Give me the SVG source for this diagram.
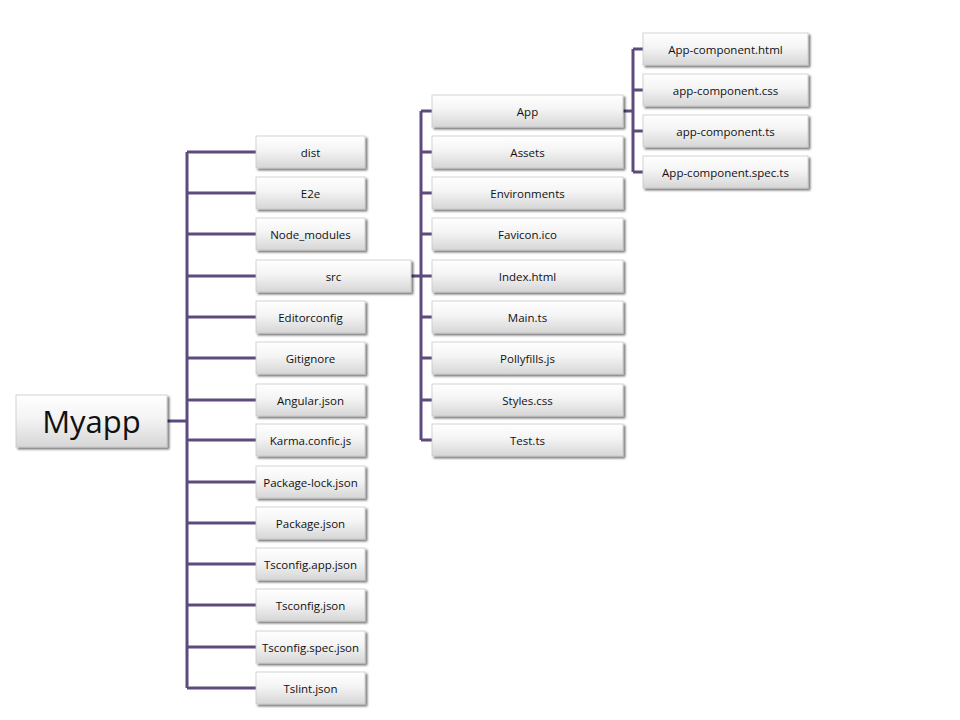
<svg xmlns="http://www.w3.org/2000/svg" width="960" height="720" viewBox="0 0 960 720">
<defs>
<linearGradient id="g" x1="0" y1="0" x2="0" y2="1">
<stop offset="0" stop-color="#ffffff"/>
<stop offset="0.45" stop-color="#f4f4f4"/>
<stop offset="1" stop-color="#d6d6d6"/>
</linearGradient>
<filter id="sh" x="-10%" y="-20%" width="130%" height="160%">
<feGaussianBlur in="SourceAlpha" stdDeviation="1"/>
<feOffset dx="1.5" dy="2" result="o"/>
<feComponentTransfer><feFuncA type="linear" slope="0.55"/></feComponentTransfer>
<feMerge><feMergeNode/><feMergeNode in="SourceGraphic"/></feMerge>
</filter>
</defs>
<style>
.b{fill:url(#g);stroke:#c8c8c8;stroke-width:0.8;filter:url(#sh)}
.t{font-family:"Open Sans","Liberation Sans",sans-serif;font-size:11.5px;fill:#111;text-anchor:middle;dominant-baseline:central}
.big{font-family:"Open Sans","Liberation Sans",sans-serif;font-size:31px;fill:#111;text-anchor:middle;dominant-baseline:central}
.c{fill:none;stroke:#5e4b7d;stroke-width:3}
</style>
<rect width="960" height="720" fill="#ffffff"/>
<g id="connectors">
<path class="c" d="M167 421H187M187 152V688M187 152H256M187 193H256M187 234H256M187 276H256M187 317H256M187 358H256M187 400H256M187 440H256M187 482H256M187 523H256M187 564H256M187 605H256M187 647H256M187 688H256"/>
<path class="c" d="M411 276H421M421 111V440M421 111H432M421 152H432M421 193H432M421 234H432M421 276H432M421 317H432M421 358H432M421 400H432M421 440H432"/>
<path class="c" d="M623 111H633M633 49V172M633 49H643M633 90H643M633 131H643M633 172H643"/>
</g>
<g id="myapp"><rect class="b" x="16" y="395" width="151" height="52"/><text class="big" x="91.5" y="421">Myapp</text></g>
<g id="dist"><rect class="b" x="256" y="136" width="109" height="32"/><text class="t" x="310.5" y="152">dist</text></g>
<g id="e2e"><rect class="b" x="256" y="177" width="109" height="32"/><text class="t" x="310.5" y="193">E2e</text></g>
<g id="node_modules"><rect class="b" x="256" y="218" width="109" height="32"/><text class="t" x="310.5" y="234">Node_modules</text></g>
<g id="src"><rect class="b" x="256" y="260" width="155" height="32"/><text class="t" x="333.5" y="276">src</text></g>
<g id="editorconfig"><rect class="b" x="256" y="301" width="109" height="32"/><text class="t" x="310.5" y="317">Editorconfig</text></g>
<g id="gitignore"><rect class="b" x="256" y="342" width="109" height="32"/><text class="t" x="310.5" y="358">Gitignore</text></g>
<g id="angular"><rect class="b" x="256" y="384" width="109" height="32"/><text class="t" x="310.5" y="400">Angular.json</text></g>
<g id="karma"><rect class="b" x="256" y="424" width="109" height="32"/><text class="t" x="310.5" y="440">Karma.confic.js</text></g>
<g id="package-lock"><rect class="b" x="256" y="466" width="109" height="32"/><text class="t" x="310.5" y="482">Package-lock.json</text></g>
<g id="package"><rect class="b" x="256" y="507" width="109" height="32"/><text class="t" x="310.5" y="523">Package.json</text></g>
<g id="tsconfig-app"><rect class="b" x="256" y="548" width="109" height="32"/><text class="t" x="310.5" y="564">Tsconfig.app.json</text></g>
<g id="tsconfig"><rect class="b" x="256" y="589" width="109" height="32"/><text class="t" x="310.5" y="605">Tsconfig.json</text></g>
<g id="tsconfig-spec"><rect class="b" x="256" y="631" width="109" height="32"/><text class="t" x="310.5" y="647">Tsconfig.spec.json</text></g>
<g id="tslint"><rect class="b" x="256" y="672" width="109" height="32"/><text class="t" x="310.5" y="688">Tslint.json</text></g>
<g id="app"><rect class="b" x="432" y="95" width="191" height="32"/><text class="t" x="527.5" y="111">App</text></g>
<g id="assets"><rect class="b" x="432" y="136" width="191" height="32"/><text class="t" x="527.5" y="152">Assets</text></g>
<g id="environments"><rect class="b" x="432" y="177" width="191" height="32"/><text class="t" x="527.5" y="193">Environments</text></g>
<g id="favicon"><rect class="b" x="432" y="218" width="191" height="32"/><text class="t" x="527.5" y="234">Favicon.ico</text></g>
<g id="index"><rect class="b" x="432" y="260" width="191" height="32"/><text class="t" x="527.5" y="276">Index.html</text></g>
<g id="main"><rect class="b" x="432" y="301" width="191" height="32"/><text class="t" x="527.5" y="317">Main.ts</text></g>
<g id="pollyfills"><rect class="b" x="432" y="342" width="191" height="32"/><text class="t" x="527.5" y="358">Pollyfills.js</text></g>
<g id="styles"><rect class="b" x="432" y="384" width="191" height="32"/><text class="t" x="527.5" y="400">Styles.css</text></g>
<g id="test"><rect class="b" x="432" y="424" width="191" height="32"/><text class="t" x="527.5" y="440">Test.ts</text></g>
<g id="app-html"><rect class="b" x="643" y="33" width="165" height="32"/><text class="t" x="725.5" y="49">App-component.html</text></g>
<g id="app-css"><rect class="b" x="643" y="74" width="165" height="32"/><text class="t" x="725.5" y="90">app-component.css</text></g>
<g id="app-ts"><rect class="b" x="643" y="115" width="165" height="32"/><text class="t" x="725.5" y="131">app-component.ts</text></g>
<g id="app-spec"><rect class="b" x="643" y="156" width="165" height="32"/><text class="t" x="725.5" y="172">App-component.spec.ts</text></g>
</svg>
